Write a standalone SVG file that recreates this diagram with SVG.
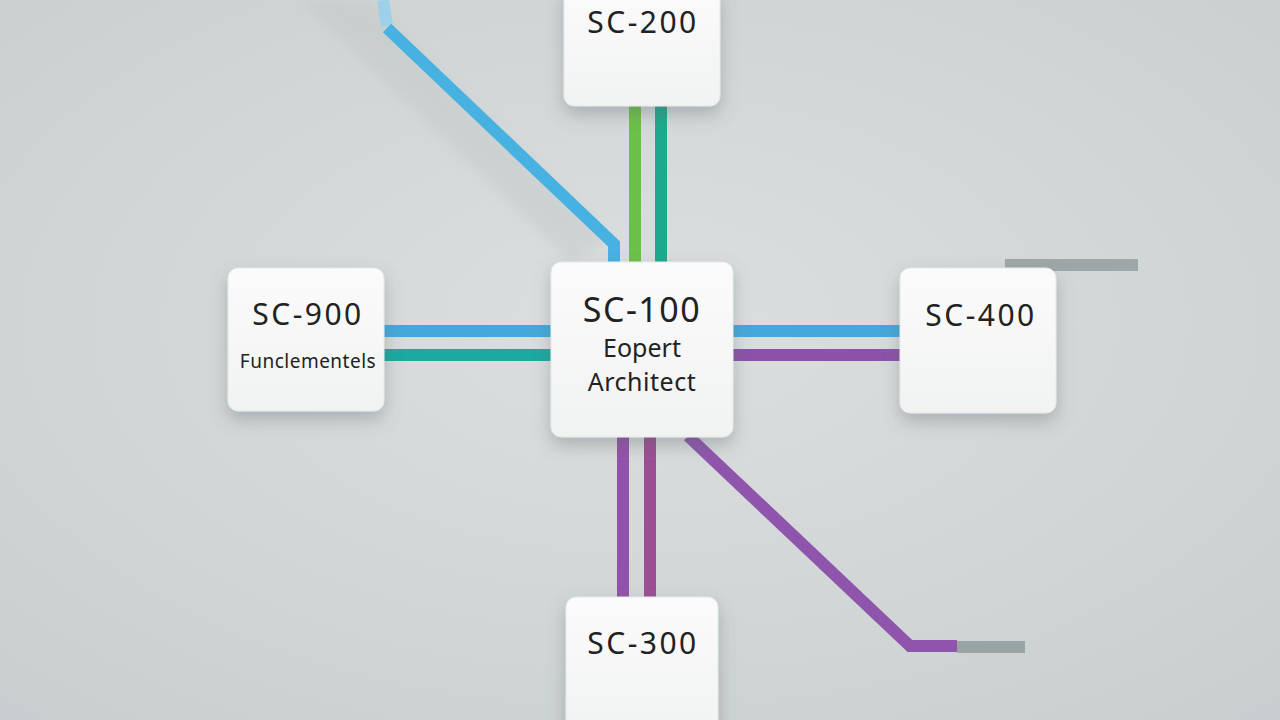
<svg xmlns="http://www.w3.org/2000/svg" width="1280" height="720" viewBox="0 0 1280 720">
<defs>
<radialGradient id="bg" cx="0.5" cy="0.45" r="0.75">
<stop offset="0" stop-color="#dcdfe0"/>
<stop offset="1" stop-color="#c8cecf"/>
</radialGradient>
<linearGradient id="card" x1="0" y1="0" x2="0" y2="1">
<stop offset="0" stop-color="#fbfbfb"/>
<stop offset="1" stop-color="#f1f2f2"/>
</linearGradient>
<filter id="sh" x="-30%" y="-30%" width="160%" height="170%">
<feDropShadow dx="0" dy="8" stdDeviation="9" flood-color="#5a6466" flood-opacity="0.35"/>
</filter>
<filter id="blur" x="-20%" y="-20%" width="140%" height="140%">
<feGaussianBlur stdDeviation="6"/>
</filter>
</defs>
<style>
.box{fill:url(#card);stroke:#e6e8e8;stroke-width:1;filter:url(#sh)}
.t{font-family:"Noto Sans","Open Sans","DejaVu Sans",sans-serif;fill:#222;text-anchor:middle}
.big{font-size:30px;letter-spacing:2.5px}
.ln{fill:none;stroke-width:12;stroke-linejoin:miter}
</style>
<rect width="1280" height="720" fill="url(#bg)"/>
<path d="M300,0 L370,0 L610,240 L570,262 Z" fill="#c3c9ca" opacity="0.5" filter="url(#blur)"/>
<g id="connectors">
<path class="ln" d="M383,0 L387,26" stroke="#9fd0ea" stroke-width="10"/>
<path class="ln" d="M387,28 L614,244 L614,262" stroke="#47b1e2"/>
<path class="ln" d="M635,106 L635,262" stroke="#6cc04a"/>
<path class="ln" d="M661,106 L661,262" stroke="#1ea98c"/>
<path class="ln" d="M384,331 L551,331" stroke="#44a9da"/>
<path class="ln" d="M384,355 L551,355" stroke="#1ca9a0"/>
<path class="ln" d="M733,331 L900,331" stroke="#45a8da"/>
<path class="ln" d="M733,355 L900,355" stroke="#8c52a8"/>
<path class="ln" d="M623,437 L623,597" stroke="#9352a9"/>
<path class="ln" d="M650,437 L650,597" stroke="#9b4f93"/>
<path class="ln" d="M688,436 L910,646 L957,646" stroke="#8f55ac"/>
<path class="ln" d="M957,647 L1025,647" stroke="#9ba4a4" stroke-width="7"/>
<path class="ln" d="M1005,265 L1138,265" stroke="#9ea7a7" stroke-width="8"/>
</g>
<g id="sc200">
<rect class="box" x="564" y="-12" width="156" height="118" rx="10"/>
<text class="t big" x="643" y="33">SC-200</text>
</g>
<g id="sc100">
<rect class="box" x="551" y="262" width="182" height="175" rx="10"/>
<text class="t" x="642" y="322" font-size="34" letter-spacing="1.5">SC-100</text>
<text class="t" x="642" y="357" font-size="25">Eopert</text>
<text class="t" x="642" y="391" font-size="25" letter-spacing="0.5">Architect</text>
</g>
<g id="sc900">
<rect class="box" x="228" y="268" width="156" height="143" rx="10"/>
<text class="t big" x="308" y="325">SC-900</text>
<text class="t" x="308" y="368" font-size="19" letter-spacing="0.5">Funclementels</text>
</g>
<g id="sc400">
<rect class="box" x="900" y="268" width="156" height="145" rx="10"/>
<text class="t big" x="981" y="326">SC-400</text>
</g>
<g id="sc300">
<rect class="box" x="566" y="597" width="152" height="140" rx="10"/>
<text class="t big" x="643" y="654">SC-300</text>
</g>
</svg>
